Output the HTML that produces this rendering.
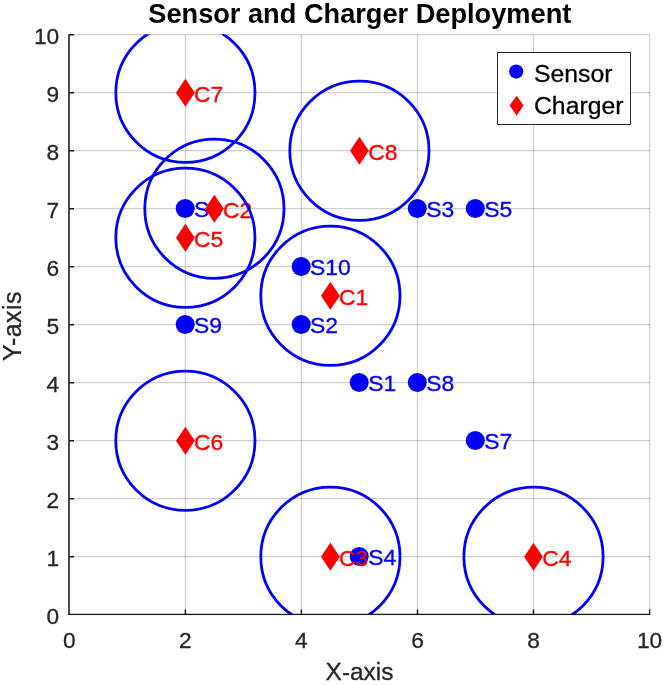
<!DOCTYPE html>
<html><head><meta charset="utf-8"><title>Sensor and Charger Deployment</title>
<style>
html,body{margin:0;padding:0;background:#fff;}
svg{display:block;font-family:"Liberation Sans",Arial,Helvetica,sans-serif;}
.tick{font-size:22.7px;fill:#262626;stroke:#262626;stroke-width:0.3px;}
.lab{font-size:24.4px;fill:#262626;stroke:#262626;stroke-width:0.3px;}
.ylab{font-size:25px;letter-spacing:0.45px;fill:#262626;stroke:#262626;stroke-width:0.3px;}
.ttl{font-size:27.2px;font-weight:bold;fill:#000;}
.leg{font-size:24.75px;fill:#000;stroke:#000;stroke-width:0.3px;}
.s{font-size:22.9px;fill:#0000ff;stroke:#0000ff;stroke-width:0.35px;}
.c{font-size:22.9px;fill:#ff0000;stroke:#ff0000;stroke-width:0.35px;}
</style></head><body>
<svg width="665" height="685" viewBox="0 0 665 685">
<rect x="0" y="0" width="665" height="685" fill="#ffffff"/>
<defs><clipPath id="ax"><rect x="69.3" y="34.3" width="580.6" height="580.2"/></clipPath></defs>
<path d="M69.3 34.7V614.7M185.4 34.7V614.7M301.4 34.7V614.7M417.5 34.7V614.7M533.5 34.7V614.7M649.6 34.7V614.7" stroke="#262626" stroke-opacity="0.21" stroke-width="1.2" fill="none"/>
<path d="M69.5 614.7H649.9M69.5 556.7H649.9M69.5 498.7H649.9M69.5 440.7H649.9M69.5 382.7H649.9M69.5 324.7H649.9M69.5 266.7H649.9M69.5 208.7H649.9M69.5 150.7H649.9M69.5 92.7H649.9M69.5 34.7H649.9" stroke="#262626" stroke-opacity="0.21" stroke-width="1.2" fill="none"/>
<g fill="#0000ff">
<circle cx="359.2" cy="382.5" r="9.5"/>
<circle cx="301.2" cy="324.5" r="9.5"/>
<circle cx="417.3" cy="208.5" r="9.5"/>
<circle cx="359.2" cy="556.5" r="9.5"/>
<circle cx="475.3" cy="208.5" r="9.5"/>
<circle cx="185.2" cy="208.5" r="9.5"/>
<circle cx="475.3" cy="440.5" r="9.5"/>
<circle cx="417.3" cy="382.5" r="9.5"/>
<circle cx="185.2" cy="324.5" r="9.5"/>
<circle cx="301.2" cy="266.5" r="9.5"/>
</g>
<text class="s" x="368.2" y="391.4">S1</text>
<text class="s" x="310.1" y="333.4">S2</text>
<text class="s" x="426.2" y="217.4">S3</text>
<text class="s" x="368.2" y="565.4">S4</text>
<text class="s" x="484.2" y="217.4">S5</text>
<text class="s" x="194.1" y="217.4">S6</text>
<text class="s" x="484.2" y="449.4">S7</text>
<text class="s" x="426.2" y="391.4">S8</text>
<text class="s" x="194.1" y="333.4">S9</text>
<text class="s" x="310.1" y="275.4">S10</text>
<g fill="#ff0000">
<path d="M330.4 281.7L339.8 295.7L330.4 309.7L321.0 295.7Z"/>
<path d="M214.4 194.7L223.8 208.7L214.4 222.7L205.0 208.7Z"/>
<path d="M330.4 542.7L339.8 556.7L330.4 570.7L321.0 556.7Z"/>
<path d="M533.5 542.7L542.9 556.7L533.5 570.7L524.1 556.7Z"/>
<path d="M185.4 223.7L194.8 237.7L185.4 251.7L176.0 237.7Z"/>
<path d="M185.4 426.7L194.8 440.7L185.4 454.7L176.0 440.7Z"/>
<path d="M185.4 78.7L194.8 92.7L185.4 106.7L176.0 92.7Z"/>
<path d="M359.4 136.7L368.8 150.7L359.4 164.7L350.1 150.7Z"/>
</g>
<text class="c" x="339.1" y="304.8">C1</text>
<text class="c" x="223.1" y="217.8">C2</text>
<text class="c" x="339.1" y="565.8">C3</text>
<text class="c" x="542.2" y="565.8">C4</text>
<text class="c" x="194.1" y="246.8">C5</text>
<text class="c" x="194.1" y="449.8">C6</text>
<text class="c" x="194.1" y="101.8">C7</text>
<text class="c" x="368.2" y="159.8">C8</text>
<g clip-path="url(#ax)" fill="none" stroke="#0000ff" stroke-width="2.8">
<circle cx="330.4" cy="295.7" r="69.6"/>
<circle cx="214.4" cy="208.7" r="69.6"/>
<circle cx="330.4" cy="556.7" r="69.6"/>
<circle cx="533.5" cy="556.7" r="69.6"/>
<circle cx="185.4" cy="237.7" r="69.6"/>
<circle cx="185.4" cy="440.7" r="69.6"/>
<circle cx="185.4" cy="92.7" r="69.6"/>
<circle cx="359.4" cy="150.7" r="69.6"/>
</g>
<path d="M69 34.2V615.1" stroke="#4d4d4d" stroke-width="2" fill="none"/>
<path d="M68 614.4H650.2" stroke="#1a1a1a" stroke-width="1.4" fill="none"/>
<path d="M185.4 614.4v-5M301.4 614.4v-5M417.5 614.4v-5M533.5 614.4v-5M649.6 614.4v-5M69 556.7h5M69 498.7h5M69 440.7h5M69 382.7h5M69 324.7h5M69 266.7h5M69 208.7h5M69 150.7h5M69 92.7h5M69 34.7h5" stroke="#1a1a1a" stroke-width="1.4" fill="none"/>
<text class="tick" text-anchor="middle" x="69.3" y="647.8">0</text>
<text class="tick" text-anchor="middle" x="185.4" y="647.8">2</text>
<text class="tick" text-anchor="middle" x="301.4" y="647.8">4</text>
<text class="tick" text-anchor="middle" x="417.5" y="647.8">6</text>
<text class="tick" text-anchor="middle" x="533.5" y="647.8">8</text>
<text class="tick" text-anchor="middle" x="649.6" y="647.8">10</text>
<text class="tick" text-anchor="end" x="59.2" y="624.4">0</text>
<text class="tick" text-anchor="end" x="59.2" y="566.4">1</text>
<text class="tick" text-anchor="end" x="59.2" y="508.4">2</text>
<text class="tick" text-anchor="end" x="59.2" y="450.4">3</text>
<text class="tick" text-anchor="end" x="59.2" y="392.4">4</text>
<text class="tick" text-anchor="end" x="59.2" y="334.4">5</text>
<text class="tick" text-anchor="end" x="59.2" y="276.4">6</text>
<text class="tick" text-anchor="end" x="59.2" y="218.4">7</text>
<text class="tick" text-anchor="end" x="59.2" y="160.4">8</text>
<text class="tick" text-anchor="end" x="59.2" y="102.4">9</text>
<text class="tick" text-anchor="end" x="59.2" y="44.4">10</text>
<text class="lab" text-anchor="middle" x="359.5" y="680.3">X-axis</text>
<text class="ylab" text-anchor="middle" transform="translate(20.8 326) rotate(-90)">Y-axis</text>
<text class="ttl" text-anchor="middle" x="359.8" y="22.7">Sensor and Charger Deployment</text>
<rect x="497.5" y="52.5" width="133" height="72" fill="#ffffff" stroke="#262626" stroke-width="1"/>
<circle cx="516.2" cy="71.6" r="7.1" fill="#0000ff"/>
<path d="M516.6 95.8L523.6 105.6L516.6 115.4L509.6 105.6Z" fill="#ff0000"/>
<text class="leg" x="534" y="81.7">Sensor</text>
<text class="leg" x="534" y="114.3">Charger</text>
</svg></body></html>
